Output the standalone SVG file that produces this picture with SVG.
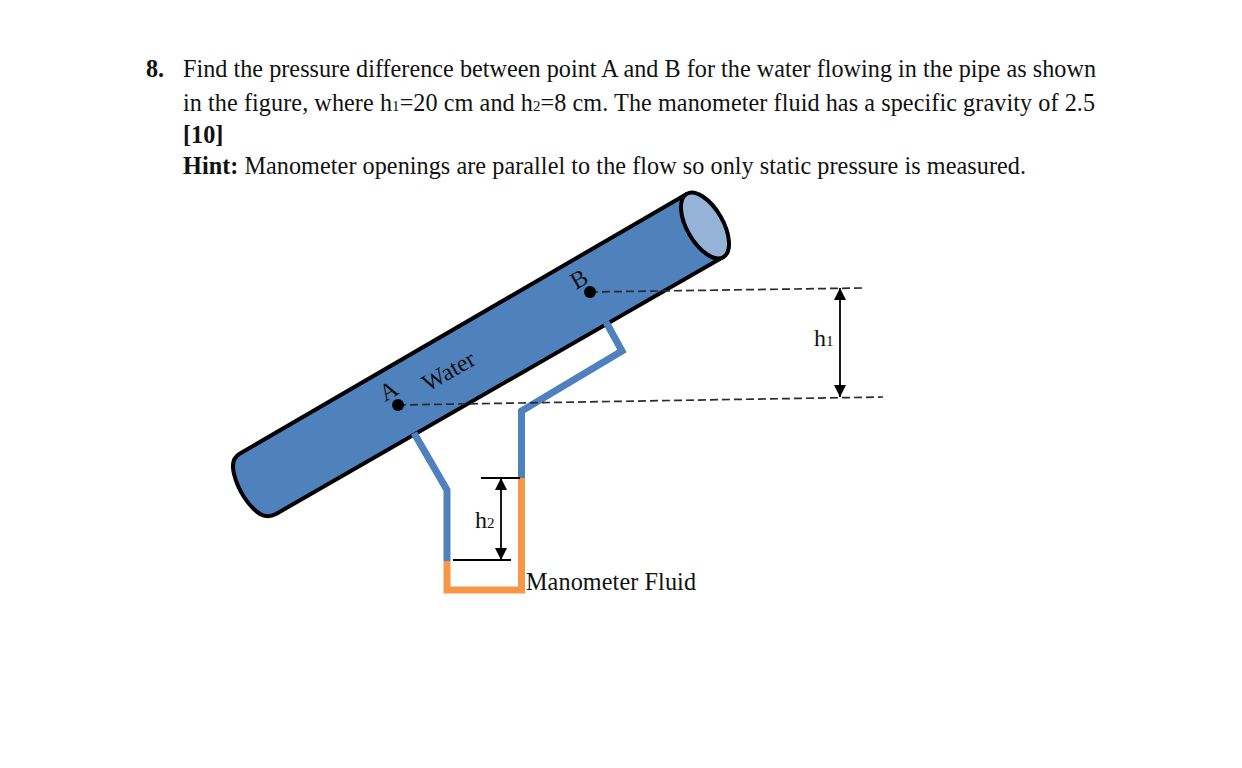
<svg xmlns="http://www.w3.org/2000/svg" width="1242" height="768" viewBox="0 0 1242 768">
<style>
text{font-family:"Liberation Serif","Times New Roman",serif;fill:#111}
.q{font-size:24.2px}
.b{font-weight:bold}
.lab{font-size:24px}
.sm{font-size:15px}
.dash{stroke:#2b2b2b;stroke-width:1.7;stroke-dasharray:8 4;fill:none}
.dim{stroke:#000;stroke-width:1.8;fill:none}
.tube{fill:none;stroke-width:7;stroke-linejoin:miter}
</style>
<defs>
<marker id="ah" markerUnits="userSpaceOnUse" markerWidth="13" markerHeight="13" refX="12" refY="6.5" orient="auto-start-reverse"><path d="M0,0.5L12,6.5L0,12.5Z" fill="#000"/></marker>
</defs>
<rect width="1242" height="768" fill="#fff"/>
<g id="question">
<text class="q b" x="146" y="77">8.</text>
<text class="q" x="183" y="77" textLength="913">Find the pressure difference between point A and B for the water flowing in the pipe as shown</text>
<text class="q" x="183" y="111" textLength="912">in the figure, where h<tspan class="sm">1</tspan>=20 cm and h<tspan class="sm">2</tspan>=8 cm. The manometer fluid has a specific gravity of 2.5</text>
<text class="q b" x="183" y="143">[10]</text>
<text class="q" x="183" y="174" textLength="843"><tspan class="b">Hint:</tspan> Manometer openings are parallel to the flow so only static pressure is measured.</text>
</g>
<g id="pipe">
<path d="M686.75,194L240,453.5C232,458 232,466 234,474C238,490 248,506 260,514C265,517 270,517 276,514L723.25,257Z" fill="#4f81bd" stroke="#000" stroke-width="4" stroke-linejoin="round"/>
<ellipse cx="705" cy="225.5" rx="36.5" ry="18" transform="rotate(60 705 225.5)" fill="#95b3d7" stroke="#000" stroke-width="4"/>
</g>
<g id="manometer">
<path class="tube" stroke="#4f81bd" d="M414,433L447,490V561"/>
<path class="tube" stroke="#f79646" d="M447,561V590H521.5V478"/>
<path class="tube" stroke="#4f81bd" d="M521.5,478V411L622,351L606,322"/>
</g>
<g id="connectors">
<path class="dash" d="M398,405L883,397"/>
<path class="dash" d="M590,292L862,288"/>
<path class="dim" d="M840,288V397" marker-start="url(#ah)" marker-end="url(#ah)"/>
<path class="dim" d="M501,478V560" marker-start="url(#ah)" marker-end="url(#ah)"/>
<path class="dim" d="M481,478H520M453,560H511"/>
</g>
<g id="point-a"><circle cx="398" cy="405" r="6" fill="#000"/>
<text class="lab" transform="translate(385,402) rotate(-30)">A</text></g>
<g id="point-b"><circle cx="590" cy="292" r="6" fill="#000"/>
<text class="lab" transform="translate(576,290) rotate(-30)">B</text></g>
<g id="labels">
<text class="lab" transform="translate(428,392) rotate(-30)">Water</text>
<text class="lab" x="814" y="346">h<tspan class="sm">1</tspan></text>
<text class="lab" x="475" y="528">h<tspan class="sm">2</tspan></text>
<text class="q" x="526" y="590" textLength="170">Manometer Fluid</text>
</g>
</svg>
